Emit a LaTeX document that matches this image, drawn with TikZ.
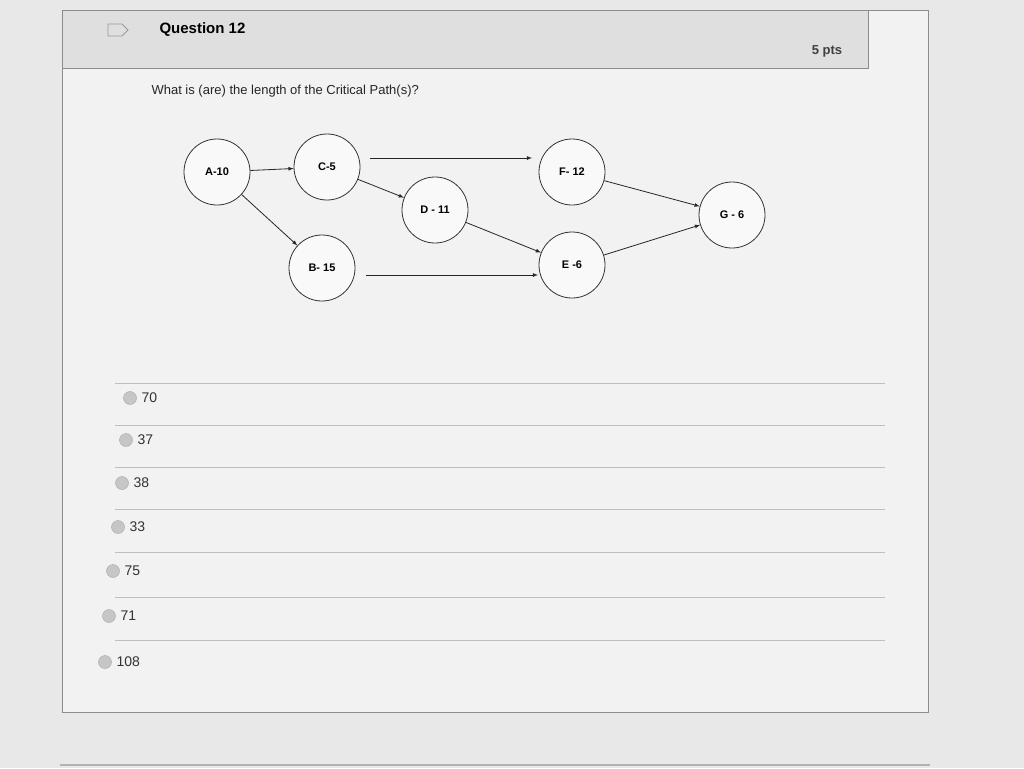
\documentclass[tikz,border=0pt]{standalone}
\usepackage{fontspec}
\setmainfont{Liberation Sans}
\begin{document}
\begin{tikzpicture}[x=1pt,y=-1pt,
  task/.style={circle,draw=black!80,thick,fill=white!95!gray,minimum size=66pt,inner sep=0pt,font=\bfseries\fontsize{11}{12}\selectfont},
  arr/.style={-latex,thick,black!85},
  sep/.style={black!25,line width=0.8pt},
  radio/.style={circle,draw=gray!70,fill=gray!45,minimum size=13pt,inner sep=0pt},
  opt/.style={font=\fontsize{14}{16}\selectfont,anchor=west,text=black!80}]
\fill[gray!18] (0,0) rectangle (1024,768);
\useasboundingbox (0,0) rectangle (1024,768);
\fill[white!90!gray] (62,10) rectangle (928,712);
\fill[gray!25] (62,10) rectangle (868,68);
\draw[black!45] (62,10) rectangle (928,712);
\draw[black!45] (62,68) -- (868,68) -- (868,10);
\node[font=\bfseries\fontsize{15}{17}\selectfont,anchor=west] (q) at (156,30) {Question 12};
\node[font=\bfseries\fontsize{13}{15}\selectfont,text=black!75] (pts) at (827,51) {5 pts};
\node[font=\fontsize{13}{15}\selectfont,anchor=west,text=black!85] (qt) at (148,91) {What is (are) the length of the Critical Path(s)?};
\draw[gray!80,thick] (108,24) -- (122,24) -- (128,30) -- (122,36) -- (108,36) -- cycle;
\node[task] (A) at (217,172) {A-10};
\node[task] (C) at (327,167) {C-5};
\node[task] (F) at (572,172) {F- 12};
\node[task] (D) at (435,210) {D - 11};
\node[task] (G) at (732,215) {G - 6};
\node[task] (B) at (322,268) {B- 15};
\node[task] (E) at (572,265) {E -6};
\coordinate (cs) at (370,158);
\coordinate (fe) at (532,158);
\coordinate (bs) at (366,275);
\coordinate (ee) at (538,275);
\draw[arr] (A) -- (C);
\draw[arr] (A) -- (B);
\draw[arr] (cs) -- (fe);
\draw[arr] (C) -- (D);
\draw[arr] (D) -- (E);
\draw[arr] (bs) -- (ee);
\draw[arr] (F) -- (G);
\draw[arr] (E) -- (G);
\foreach \y in {383,425,467,509,552,597,640} \draw[sep] (115,\y) -- (885,\y);
\foreach \x/\y/\t/\n in {130/398/70/o1,126/440/37/o2,122/483/38/o3,118/527/33/o4,113/571/75/o5,109/616/71/o6,105/662/108/o7}{
  \node[radio] (r\n) at (\x,\y) {};
  \node[opt] (t\n) at (\x+8,\y) {\t};
}
\draw[black!30,line width=2pt] (60,765) -- (930,765);
\end{tikzpicture}
\end{document}
